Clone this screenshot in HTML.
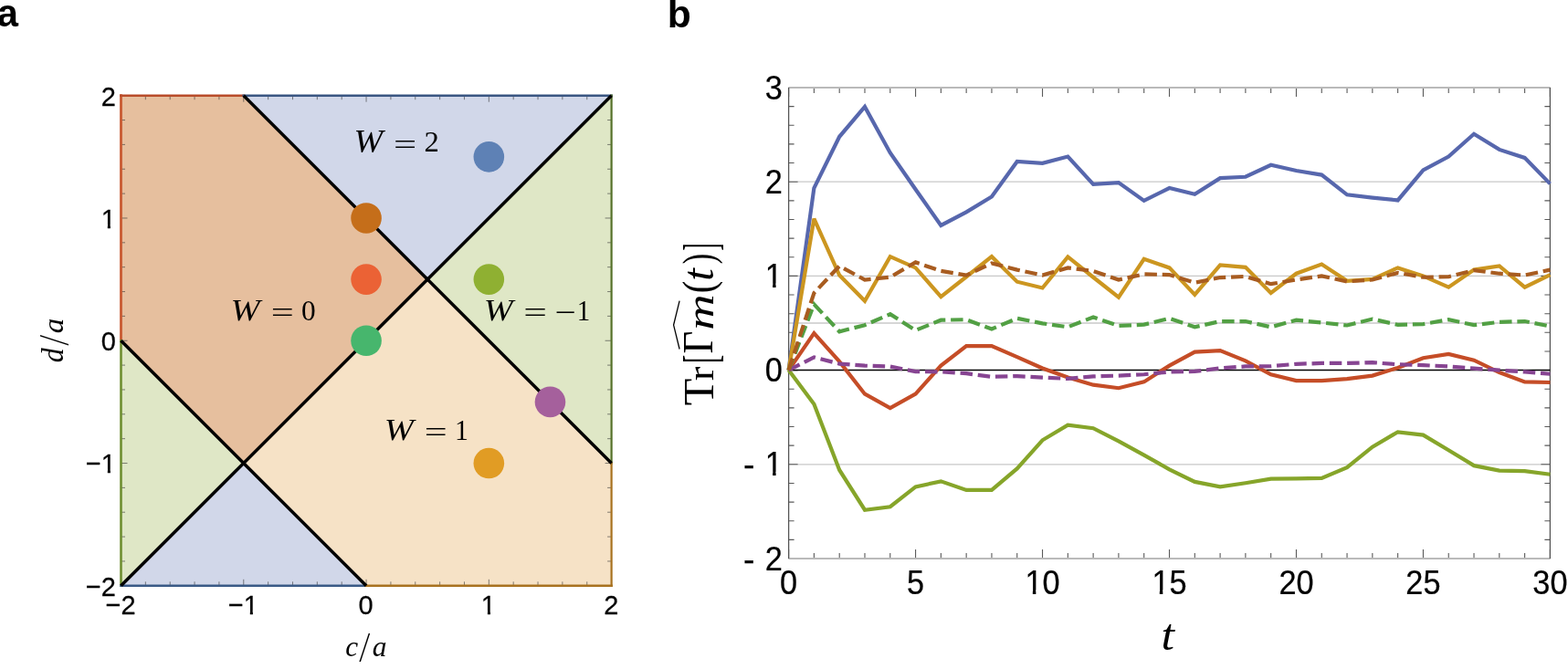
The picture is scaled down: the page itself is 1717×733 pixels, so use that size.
<!DOCTYPE html>
<html><head><meta charset="utf-8"><title>Figure</title>
<style>html,body{margin:0;padding:0;background:#fff;overflow:hidden}svg{display:block}</style>
</head><body>
<svg width="1717" height="733" viewBox="0 0 1717 733"><defs><clipPath id="k0" clipPathUnits="userSpaceOnUse"><rect x="-50" y="-200" width="116.80" height="196.14"/><rect x="-50.00" y="-200" width="50.00" height="260"/><rect x="7.34" y="-200" width="3.17" height="260"/><rect x="16.80" y="-200" width="100.00" height="260"/></clipPath><clipPath id="k1" clipPathUnits="userSpaceOnUse"><rect x="-50" y="-200" width="134.43" height="196.14"/><rect x="-50.00" y="-200" width="67.64" height="260"/><rect x="24.98" y="-200" width="3.17" height="260"/><rect x="34.43" y="-200" width="100.00" height="260"/></clipPath><clipPath id="k2" clipPathUnits="userSpaceOnUse"><rect x="-50" y="-200" width="134.43" height="196.14"/><rect x="-50.00" y="-200" width="67.64" height="260"/><rect x="24.98" y="-200" width="3.17" height="260"/><rect x="34.43" y="-200" width="100.00" height="260"/></clipPath><clipPath id="k3" clipPathUnits="userSpaceOnUse"><rect x="-50" y="-200" width="116.80" height="196.14"/><rect x="-50.00" y="-200" width="50.00" height="260"/><rect x="7.34" y="-200" width="3.17" height="260"/><rect x="16.80" y="-200" width="100.00" height="260"/></clipPath><clipPath id="k4" clipPathUnits="userSpaceOnUse"><rect x="-50" y="-200" width="120.52" height="195.64"/><rect x="-50.00" y="-200" width="50.00" height="260"/><rect x="9.03" y="-200" width="3.76" height="260"/><rect x="20.52" y="-200" width="100.00" height="260"/></clipPath><clipPath id="k5" clipPathUnits="userSpaceOnUse"><rect x="-50" y="-200" width="120.52" height="195.64"/><rect x="-50.00" y="-200" width="50.00" height="260"/><rect x="9.03" y="-200" width="3.76" height="260"/><rect x="20.52" y="-200" width="100.00" height="260"/></clipPath><clipPath id="k6" clipPathUnits="userSpaceOnUse"><rect x="-50" y="-200" width="141.04" height="195.64"/><rect x="-50.00" y="-200" width="50.00" height="260"/><rect x="9.03" y="-200" width="3.76" height="260"/><rect x="20.52" y="-200" width="120.52" height="260"/></clipPath><clipPath id="k7" clipPathUnits="userSpaceOnUse"><rect x="-50" y="-200" width="141.04" height="195.64"/><rect x="-50.00" y="-200" width="50.00" height="260"/><rect x="9.03" y="-200" width="3.76" height="260"/><rect x="20.52" y="-200" width="120.52" height="260"/></clipPath></defs><rect width="100%" height="100%" fill="#fff"/><polygon points="132.50,104.70 266.77,104.70 468.19,306.11 266.77,507.52 132.50,373.25" fill="#E6BF9E"/><polygon points="266.77,104.70 669.60,104.70 468.19,306.11" fill="#D1D7E9"/><polygon points="669.60,104.70 669.60,507.52 468.19,306.11" fill="#DFE7C6"/><polygon points="468.19,306.11 669.60,507.52 669.60,641.80 401.05,641.80 266.77,507.52" fill="#F6E2C6"/><polygon points="266.77,507.52 401.05,641.80 132.50,641.80" fill="#D1D7E9"/><polygon points="132.50,373.25 266.77,507.52 132.50,641.80" fill="#DFE7C6"/><path d="M132.50,641.80v-7M132.50,104.70v7M132.50,641.80h7M669.60,641.80h-7M159.35,641.80v-4.5M159.35,104.70v4.5M132.50,614.94h4.5M669.60,614.94h-4.5M186.21,641.80v-4.5M186.21,104.70v4.5M132.50,588.09h4.5M669.60,588.09h-4.5M213.06,641.80v-4.5M213.06,104.70v4.5M132.50,561.23h4.5M669.60,561.23h-4.5M239.92,641.80v-4.5M239.92,104.70v4.5M132.50,534.38h4.5M669.60,534.38h-4.5M266.77,641.80v-7M266.77,104.70v7M132.50,507.52h7M669.60,507.52h-7M293.63,641.80v-4.5M293.63,104.70v4.5M132.50,480.67h4.5M669.60,480.67h-4.5M320.49,641.80v-4.5M320.49,104.70v4.5M132.50,453.81h4.5M669.60,453.81h-4.5M347.34,641.80v-4.5M347.34,104.70v4.5M132.50,426.96h4.5M669.60,426.96h-4.5M374.20,641.80v-4.5M374.20,104.70v4.5M132.50,400.10h4.5M669.60,400.10h-4.5M401.05,641.80v-7M401.05,104.70v7M132.50,373.25h7M669.60,373.25h-7M427.91,641.80v-4.5M427.91,104.70v4.5M132.50,346.39h4.5M669.60,346.39h-4.5M454.76,641.80v-4.5M454.76,104.70v4.5M132.50,319.54h4.5M669.60,319.54h-4.5M481.62,641.80v-4.5M481.62,104.70v4.5M132.50,292.68h4.5M669.60,292.68h-4.5M508.47,641.80v-4.5M508.47,104.70v4.5M132.50,265.83h4.5M669.60,265.83h-4.5M535.33,641.80v-7M535.33,104.70v7M132.50,238.97h7M669.60,238.97h-7M562.18,641.80v-4.5M562.18,104.70v4.5M132.50,212.12h4.5M669.60,212.12h-4.5M589.04,641.80v-4.5M589.04,104.70v4.5M132.50,185.26h4.5M669.60,185.26h-4.5M615.89,641.80v-4.5M615.89,104.70v4.5M132.50,158.41h4.5M669.60,158.41h-4.5M642.75,641.80v-4.5M642.75,104.70v4.5M132.50,131.55h4.5M669.60,131.55h-4.5M669.60,641.80v-7M669.60,104.70v7M132.50,104.70h7M669.60,104.70h-7" stroke="#333" stroke-width="1" fill="none" opacity="0.6"/><line x1="132.50" y1="104.70" x2="132.50" y2="373.25" stroke="#C85A32" stroke-width="2.8" stroke-linecap="square"/><line x1="132.50" y1="373.25" x2="132.50" y2="641.80" stroke="#6E8E30" stroke-width="2.6" stroke-linecap="square"/><line x1="132.50" y1="104.70" x2="266.77" y2="104.70" stroke="#B84C2A" stroke-width="2.6" stroke-linecap="square"/><line x1="266.77" y1="104.70" x2="669.60" y2="104.70" stroke="#3A5682" stroke-width="2.6" stroke-linecap="square"/><line x1="669.60" y1="104.70" x2="669.60" y2="507.52" stroke="#56722A" stroke-width="2.2" stroke-linecap="square"/><line x1="669.60" y1="507.52" x2="669.60" y2="641.80" stroke="#A87220" stroke-width="2.2" stroke-linecap="square"/><line x1="132.50" y1="641.80" x2="401.05" y2="641.80" stroke="#3A5A86" stroke-width="2.4" stroke-linecap="square"/><line x1="401.05" y1="641.80" x2="669.60" y2="641.80" stroke="#A87220" stroke-width="2.6" stroke-linecap="square"/><line x1="266.77" y1="104.70" x2="669.60" y2="507.52" stroke="#000" stroke-width="3.5"/><line x1="132.50" y1="373.25" x2="401.05" y2="641.80" stroke="#000" stroke-width="3.5"/><line x1="132.50" y1="641.80" x2="669.60" y2="104.70" stroke="#000" stroke-width="3.5"/><circle cx="535.33" cy="171.84" r="16.8" fill="#5E81B5"/><circle cx="401.05" cy="238.97" r="16.8" fill="#C56E1A"/><circle cx="401.05" cy="306.11" r="16.8" fill="#EB6235"/><circle cx="401.05" cy="373.25" r="16.8" fill="#47B66D"/><circle cx="535.33" cy="306.11" r="16.8" fill="#8FB032"/><circle cx="602.46" cy="440.39" r="16.8" fill="#A5609C"/><circle cx="535.33" cy="507.52" r="16.8" fill="#E19C24"/><g font-family="'Liberation Sans', Arial, sans-serif" fill="#000" stroke="#000" stroke-width="0.25"><text transform="translate(110.78,115.60) scale(0.9600,1)" font-size="30.20" xml:space="preserve">2</text><text transform="translate(110.78,249.87) scale(0.9600,1)" font-size="30.20" xml:space="preserve" clip-path="url(#k0)">1</text><text transform="translate(110.78,384.15) scale(0.9600,1)" font-size="30.20" xml:space="preserve">0</text><text transform="translate(93.85,518.42) scale(0.9600,1)" font-size="30.20" xml:space="preserve" clip-path="url(#k1)">−1</text><text transform="translate(93.85,652.70) scale(0.9600,1)" font-size="30.20" xml:space="preserve">−2</text><text transform="translate(115.57,673.20) scale(0.9600,1)" font-size="30.20" xml:space="preserve">−2</text><text transform="translate(249.85,673.20) scale(0.9600,1)" font-size="30.20" xml:space="preserve" clip-path="url(#k2)">−1</text><text transform="translate(392.59,673.20) scale(0.9600,1)" font-size="30.20" xml:space="preserve">0</text><text transform="translate(526.86,673.20) scale(0.9600,1)" font-size="30.20" xml:space="preserve" clip-path="url(#k3)">1</text><text transform="translate(661.14,673.20) scale(0.9600,1)" font-size="30.20" xml:space="preserve">2</text></g><g fill="#000"><text transform="translate(378.24,718.60) scale(1.0041,1)" font-family="'Liberation Serif', 'Times New Roman', serif" font-size="31.19" font-style="italic">c</text><text transform="translate(394.75,725.15) scale(0.9836,1.5348)" font-family="'Liberation Serif', 'Times New Roman', serif" font-size="30.00" font-style="italic">/</text><text transform="translate(407.66,718.58) scale(1.0080,1)" font-family="'Liberation Serif', 'Times New Roman', serif" font-size="31.19" font-style="italic">a</text><text transform="translate(69.18,365.28) rotate(-90) scale(1.0459,1.0000)" font-family="'Liberation Serif', 'Times New Roman', serif" font-size="31.60" font-style="italic">a</text><text transform="translate(75.35,377.36) rotate(-90) scale(0.9752,1.5248)" font-family="'Liberation Serif', 'Times New Roman', serif" font-size="30.00" font-style="italic">/</text><text transform="translate(69.16,397.36) rotate(-90) scale(0.9559,1.0000)" font-family="'Liberation Serif', 'Times New Roman', serif" font-size="33.23" font-style="italic">d</text><text transform="translate(387.39,166.87) scale(1.0904,1)" font-family="'Liberation Serif', 'Times New Roman', serif" font-size="34.93" font-style="italic">W</text><text transform="translate(430.97,169.04) scale(1.3754,1)" font-family="'Liberation Serif', 'Times New Roman', serif" font-size="32.50">=</text><text transform="translate(464.46,166.10) scale(1.0064,1)" font-family="'Liberation Serif', 'Times New Roman', serif" font-size="32.47">2</text><text transform="translate(252.46,350.89) scale(1.1381,1)" font-family="'Liberation Serif', 'Times New Roman', serif" font-size="33.88" font-style="italic">W</text><text transform="translate(296.78,353.34) scale(1.3687,1)" font-family="'Liberation Serif', 'Times New Roman', serif" font-size="32.50">=</text><text transform="translate(330.00,350.78) scale(0.9625,1)" font-family="'Liberation Serif', 'Times New Roman', serif" font-size="32.60">0</text><text transform="translate(529.67,350.89) scale(1.1462,1)" font-family="'Liberation Serif', 'Times New Roman', serif" font-size="33.44" font-style="italic">W</text><text transform="translate(573.23,353.24) scale(1.4018,1)" font-family="'Liberation Serif', 'Times New Roman', serif" font-size="32.50">=</text><text transform="translate(607.25,353.39) scale(1.2696,1)" font-family="'Liberation Serif', 'Times New Roman', serif" font-size="32.50">−</text><text transform="translate(631.65,350.80) scale(0.9108,1)" font-family="'Liberation Serif', 'Times New Roman', serif" font-size="31.81">1</text><text transform="translate(420.76,481.99) scale(1.1381,1)" font-family="'Liberation Serif', 'Times New Roman', serif" font-size="33.88" font-style="italic">W</text><text transform="translate(464.80,484.09) scale(1.3621,1)" font-family="'Liberation Serif', 'Times New Roman', serif" font-size="32.50">=</text><text transform="translate(497.88,481.80) scale(0.9244,1)" font-family="'Liberation Serif', 'Times New Roman', serif" font-size="32.27">1</text></g><line x1="863.6" y1="199.20" x2="1697.4" y2="199.20" stroke="#c8c8c8" stroke-width="1.3"/><line x1="863.6" y1="302.40" x2="1697.4" y2="302.40" stroke="#c8c8c8" stroke-width="1.3"/><line x1="863.6" y1="354.00" x2="1697.4" y2="354.00" stroke="#c8c8c8" stroke-width="1.3"/><line x1="863.6" y1="508.80" x2="1697.4" y2="508.80" stroke="#c8c8c8" stroke-width="1.3"/><path d="M863.60,612.00h10M1697.40,612.00h-10M863.60,591.36h6M1697.40,591.36h-6M863.60,570.72h6M1697.40,570.72h-6M863.60,550.08h6M1697.40,550.08h-6M863.60,529.44h6M1697.40,529.44h-6M863.60,508.80h10M1697.40,508.80h-10M863.60,488.16h6M1697.40,488.16h-6M863.60,467.52h6M1697.40,467.52h-6M863.60,446.88h6M1697.40,446.88h-6M863.60,426.24h6M1697.40,426.24h-6M863.60,405.60h10M1697.40,405.60h-10M863.60,384.96h6M1697.40,384.96h-6M863.60,364.32h6M1697.40,364.32h-6M863.60,343.68h6M1697.40,343.68h-6M863.60,323.04h6M1697.40,323.04h-6M863.60,302.40h10M1697.40,302.40h-10M863.60,281.76h6M1697.40,281.76h-6M863.60,261.12h6M1697.40,261.12h-6M863.60,240.48h6M1697.40,240.48h-6M863.60,219.84h6M1697.40,219.84h-6M863.60,199.20h10M1697.40,199.20h-10M863.60,178.56h6M1697.40,178.56h-6M863.60,157.92h6M1697.40,157.92h-6M863.60,137.28h6M1697.40,137.28h-6M863.60,116.64h6M1697.40,116.64h-6M863.60,96.00h10M1697.40,96.00h-10M863.60,612.00v-10M863.60,96.00v10M891.39,612.00v-6M891.39,96.00v6M919.19,612.00v-6M919.19,96.00v6M946.98,612.00v-6M946.98,96.00v6M974.77,612.00v-6M974.77,96.00v6M1002.57,612.00v-10M1002.57,96.00v10M1030.36,612.00v-6M1030.36,96.00v6M1058.15,612.00v-6M1058.15,96.00v6M1085.95,612.00v-6M1085.95,96.00v6M1113.74,612.00v-6M1113.74,96.00v6M1141.53,612.00v-10M1141.53,96.00v10M1169.33,612.00v-6M1169.33,96.00v6M1197.12,612.00v-6M1197.12,96.00v6M1224.91,612.00v-6M1224.91,96.00v6M1252.71,612.00v-6M1252.71,96.00v6M1280.50,612.00v-10M1280.50,96.00v10M1308.29,612.00v-6M1308.29,96.00v6M1336.09,612.00v-6M1336.09,96.00v6M1363.88,612.00v-6M1363.88,96.00v6M1391.67,612.00v-6M1391.67,96.00v6M1419.47,612.00v-10M1419.47,96.00v10M1447.26,612.00v-6M1447.26,96.00v6M1475.05,612.00v-6M1475.05,96.00v6M1502.85,612.00v-6M1502.85,96.00v6M1530.64,612.00v-6M1530.64,96.00v6M1558.43,612.00v-10M1558.43,96.00v10M1586.23,612.00v-6M1586.23,96.00v6M1614.02,612.00v-6M1614.02,96.00v6M1641.81,612.00v-6M1641.81,96.00v6M1669.61,612.00v-6M1669.61,96.00v6M1697.40,612.00v-10M1697.40,96.00v10" stroke="#5a5a5a" stroke-width="1.1" fill="none"/><line x1="863.6" y1="96.0" x2="1697.4" y2="96.0" stroke="#bababa" stroke-width="2"/><line x1="863.6" y1="612.0" x2="1697.4" y2="612.0" stroke="#bababa" stroke-width="2"/><line x1="863.6" y1="96.0" x2="863.6" y2="612.0" stroke="#555" stroke-width="1.3"/><line x1="1697.4" y1="96.0" x2="1697.4" y2="612.0" stroke="#555" stroke-width="1.3"/><line x1="863.6" y1="405.60" x2="1697.4" y2="405.60" stroke="#000" stroke-width="1.5"/><path d="M863.60,405.60 L891.39,442.75 L919.19,514.99 L946.98,558.75 L974.77,555.24 L1002.57,533.36 L1030.36,527.38 L1058.15,536.87 L1085.95,536.87 L1113.74,513.44 L1141.53,482.28 L1169.33,465.66 L1197.12,469.17 L1224.91,483.41 L1252.71,498.69 L1280.50,514.27 L1308.29,527.89 L1336.09,533.36 L1363.88,529.23 L1391.67,524.59 L1419.47,524.38 L1447.26,523.87 L1475.05,512.10 L1502.85,489.71 L1530.64,473.30 L1558.43,476.60 L1586.23,493.22 L1614.02,510.14 L1641.81,515.61 L1669.61,516.13 L1697.40,519.74" fill="none" stroke="#86A52A" stroke-width="4.2" stroke-linejoin="miter" stroke-miterlimit="3"/><path d="M863.60,405.60 L891.39,365.04 L919.19,396.11 L946.98,431.71 L974.77,447.09 L1002.57,431.61 L1030.36,400.54 L1058.15,379.08 L1085.95,379.18 L1113.74,391.15 L1141.53,403.43 L1169.33,413.55 L1197.12,421.70 L1224.91,425.21 L1252.71,418.40 L1280.50,400.65 L1308.29,385.68 L1336.09,384.03 L1363.88,395.28 L1391.67,410.24 L1419.47,417.06 L1447.26,417.06 L1475.05,415.20 L1502.85,411.59 L1530.64,402.92 L1558.43,392.18 L1586.23,387.85 L1614.02,394.66 L1641.81,408.08 L1669.61,418.40 L1697.40,419.02" fill="none" stroke="#C54D27" stroke-width="4.2" stroke-linejoin="miter" stroke-miterlimit="3"/><path d="M863.60,405.60 L891.39,206.01 L919.19,149.77 L946.98,116.95 L974.77,167.41 L1002.57,207.46 L1030.36,246.98 L1058.15,232.33 L1085.95,215.51 L1113.74,176.91 L1141.53,178.87 L1169.33,171.54 L1197.12,201.88 L1224.91,200.03 L1252.71,219.84 L1280.50,206.01 L1308.29,212.82 L1336.09,195.18 L1363.88,193.73 L1391.67,180.73 L1419.47,187.02 L1447.26,191.56 L1475.05,213.34 L1502.85,216.54 L1530.64,219.43 L1558.43,186.30 L1586.23,171.54 L1614.02,146.77 L1641.81,163.91 L1669.61,172.88 L1697.40,201.37" fill="none" stroke="#5767AD" stroke-width="4.2" stroke-linejoin="miter" stroke-miterlimit="3"/><path d="M863.60,405.60 L891.39,239.65 L919.19,301.57 L946.98,329.75 L974.77,281.14 L1002.57,293.42 L1030.36,325.10 L1058.15,303.23 L1085.95,281.14 L1113.74,308.70 L1141.53,315.51 L1169.33,281.35 L1197.12,303.74 L1224.91,325.62 L1252.71,283.82 L1280.50,293.42 L1308.29,322.83 L1336.09,290.43 L1363.88,292.80 L1391.67,320.98 L1419.47,299.72 L1447.26,289.60 L1475.05,307.87 L1502.85,305.91 L1530.64,293.42 L1558.43,302.40 L1586.23,314.68 L1614.02,295.59 L1641.81,291.46 L1669.61,314.68 L1697.40,301.06" fill="none" stroke="#CC9620" stroke-width="4.2" stroke-linejoin="miter" stroke-miterlimit="3"/><path d="M863.60,405.60 L891.39,391.36 L919.19,398.58 L946.98,400.65 L974.77,401.58 L1002.57,407.15 L1030.36,407.35 L1058.15,409.21 L1085.95,412.82 L1113.74,412.10 L1141.53,413.55 L1169.33,414.89 L1197.12,412.41 L1224.91,411.59 L1252.71,410.24 L1280.50,407.46 L1308.29,406.94 L1336.09,403.43 L1363.88,401.47 L1391.67,401.27 L1419.47,398.79 L1447.26,397.96 L1475.05,397.96 L1502.85,397.14 L1530.64,399.30 L1558.43,400.13 L1586.23,401.47 L1614.02,403.64 L1641.81,405.60 L1669.61,407.46 L1697.40,409.73" fill="none" stroke="#874592" stroke-width="4.2" stroke-linejoin="miter" stroke-miterlimit="3" stroke-dasharray="13.5 5.8"/><path d="M863.60,405.60 L891.39,333.36 L919.19,363.29 L946.98,356.17 L974.77,344.20 L1002.57,361.95 L1030.36,350.70 L1058.15,350.18 L1085.95,360.50 L1113.74,348.84 L1141.53,354.31 L1169.33,358.33 L1197.12,347.50 L1224.91,356.99 L1252.71,355.65 L1280.50,348.84 L1308.29,358.33 L1336.09,352.04 L1363.88,352.04 L1391.67,358.33 L1419.47,350.70 L1447.26,353.48 L1475.05,356.48 L1502.85,349.56 L1530.64,355.86 L1558.43,355.14 L1586.23,350.18 L1614.02,356.17 L1641.81,352.86 L1669.61,352.04 L1697.40,357.51" fill="none" stroke="#52A044" stroke-width="4.2" stroke-linejoin="miter" stroke-miterlimit="3" stroke-dasharray="13.5 5.8"/><path d="M863.60,405.60 L891.39,320.98 L919.19,291.46 L946.98,306.53 L974.77,303.74 L1002.57,287.33 L1030.36,296.93 L1058.15,301.57 L1085.95,288.36 L1113.74,295.59 L1141.53,301.57 L1169.33,293.42 L1197.12,296.93 L1224.91,306.53 L1252.71,300.44 L1280.50,301.06 L1308.29,309.73 L1336.09,304.05 L1363.88,302.92 L1391.67,311.17 L1419.47,306.53 L1447.26,302.40 L1475.05,308.39 L1502.85,306.53 L1530.64,298.89 L1558.43,303.74 L1586.23,303.23 L1614.02,296.10 L1641.81,299.72 L1669.61,301.57 L1697.40,295.59" fill="none" stroke="#A85C20" stroke-width="4.2" stroke-linejoin="miter" stroke-miterlimit="3" stroke-dasharray="13.5 5.8"/><g font-family="'Liberation Sans', Arial, sans-serif" fill="#000" stroke="#000" stroke-width="0.25"><text transform="translate(837.71,108.50) scale(0.9300,1)" font-size="36.90" xml:space="preserve">3</text><text transform="translate(837.71,211.70) scale(0.9300,1)" font-size="36.90" xml:space="preserve">2</text><text transform="translate(837.71,314.90) scale(0.9300,1)" font-size="36.90" xml:space="preserve" clip-path="url(#k4)">1</text><text transform="translate(837.71,418.10) scale(0.9300,1)" font-size="36.90" xml:space="preserve">0</text><text transform="translate(837.71,521.30) scale(0.9300,1)" font-size="36.90" xml:space="preserve" clip-path="url(#k5)">1</text><text transform="translate(837.71,624.50) scale(0.9300,1)" font-size="36.90" xml:space="preserve">2</text><text transform="translate(813.94,521.30) scale(1.0101,1)" font-family="'Liberation Sans', Arial, sans-serif" font-size="36.90">-</text><text transform="translate(813.94,624.50) scale(1.0101,1)" font-family="'Liberation Sans', Arial, sans-serif" font-size="36.90">-</text><text transform="translate(854.06,650.80) scale(0.9300,1)" font-size="36.90" xml:space="preserve">0</text><text transform="translate(993.02,650.80) scale(0.9300,1)" font-size="36.90" xml:space="preserve">5</text><text transform="translate(1122.45,650.80) scale(0.9300,1)" font-size="36.90" xml:space="preserve" clip-path="url(#k6)">10</text><text transform="translate(1261.41,650.80) scale(0.9300,1)" font-size="36.90" xml:space="preserve" clip-path="url(#k7)">15</text><text transform="translate(1400.38,650.80) scale(0.9300,1)" font-size="36.90" xml:space="preserve">20</text><text transform="translate(1539.35,650.80) scale(0.9300,1)" font-size="36.90" xml:space="preserve">25</text><text transform="translate(1678.31,650.80) scale(0.9300,1)" font-size="36.90" xml:space="preserve">30</text></g><text transform="translate(1271.52,712.32) scale(1.0634,1)" font-family="'Liberation Serif', 'Times New Roman', serif" font-size="48.89" font-style="italic">t</text><g fill="#000"><text transform="translate(780.90,444.27) rotate(-90) scale(1.0499,1.0000)" font-family="'Liberation Serif', 'Times New Roman', serif" font-size="46.12">T</text><text transform="translate(780.90,417.35) rotate(-90) scale(1.1152,1.0000)" font-family="'Liberation Serif', 'Times New Roman', serif" font-size="42.45">r</text><text transform="translate(784.54,398.03) rotate(-90) scale(0.6523,1.2744)" font-family="'Liberation Serif', 'Times New Roman', serif" font-size="42.00">[</text><text transform="translate(780.40,387.44) rotate(-90) scale(0.9339,1.0000)" font-family="'Liberation Serif', 'Times New Roman', serif" font-size="45.97">Γ</text><text transform="translate(781.00,361.77) rotate(-90) scale(1.3035,1.0000)" font-family="'Liberation Serif', 'Times New Roman', serif" font-size="41.81" font-style="italic">m</text><text transform="translate(781.30,321.20) rotate(-90) scale(0.9734,1.1632)" font-family="'Liberation Serif', 'Times New Roman', serif" font-size="42.00">(</text><text transform="translate(780.52,307.75) rotate(-90) scale(0.9954,1.0000)" font-family="'Liberation Serif', 'Times New Roman', serif" font-size="49.06" font-style="italic">t</text><text transform="translate(781.30,289.54) rotate(-90) scale(0.8436,1.1632)" font-family="'Liberation Serif', 'Times New Roman', serif" font-size="42.00">)</text><text transform="translate(784.54,274.46) rotate(-90) scale(0.5668,1.2744)" font-family="'Liberation Serif', 'Times New Roman', serif" font-size="42.00">]</text></g><path d="M744.1,329.7 L737.6,356.1 L744.1,382.5" fill="none" stroke="#000" stroke-width="1.3" stroke-linejoin="miter"/><text transform="translate(-3.13,28.60) scale(0.9958,1)" font-family="'Liberation Sans', Arial, sans-serif" font-size="42.00" font-weight="bold">a</text><text transform="translate(730.79,29.60) scale(1.0039,1)" font-family="'Liberation Sans', Arial, sans-serif" font-size="42.50" font-weight="bold">b</text></svg>
</body></html>
